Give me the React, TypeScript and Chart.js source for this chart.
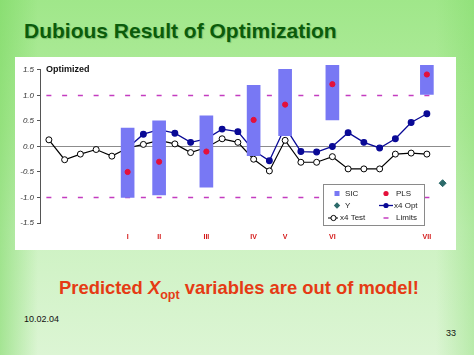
import React, { useEffect, useRef } from "react";
import { Chart, registerables } from "chart.js";
Chart.register(...registerables);

// ---- data ----
const categories = ["", "", "", "", "", "I", "", "II", "", "", "III", "", "", "IV", "", "V", "", "", "VI", "", "", "", "", "", "VII", ""];
const x4Test = [0.13, -0.26, -0.15, -0.06, -0.19, -0.03, 0.04, 0.12, 0.05, -0.12, -0.02, 0.15, 0.08, -0.25, -0.48, 0.12, -0.31, -0.31, -0.2, -0.44, -0.44, -0.44, -0.15, -0.13, -0.15, null];
const x4Opt = [null, null, null, null, null, -0.03, 0.24, 0.33, 0.26, 0.08, 0.15, 0.34, 0.29, -0.08, -0.28, 0.38, -0.1, -0.11, 0.0, 0.27, 0.08, -0.03, 0.15, 0.47, 0.64, null];
const sicLow = [null, null, null, null, null, -1.0, null, -0.95, null, null, -0.8, null, null, -0.18, null, 0.21, null, null, 0.52, null, null, null, null, null, 1.02, null];
const sicHigh = [null, null, null, null, null, 0.36, null, 0.5, null, null, 0.6, null, null, 1.2, null, 1.51, null, null, 1.59, null, null, null, null, null, 1.59, null];
const pls = [null, null, null, null, null, -0.5, null, -0.3, null, null, -0.1, null, null, 0.52, null, 0.82, null, null, 1.22, null, null, null, null, null, 1.41, null];
const yObs = [null, null, null, null, null, null, null, null, null, null, null, null, null, null, null, null, null, null, null, null, null, null, null, null, null, -0.72];
const limitUpper = [1, 1, 1, 1, 1, 1, 1, 1, 1, 1, 1, 1, 1, 1, 1, 1, 1, 1, 1, 1, 1, 1, 1, 1, 1, null];
const limitLower = [-1, -1, -1, -1, -1, -1, -1, -1, -1, -1, -1, -1, -1, -1, -1, -1, -1, -1, -1, -1, -1, -1, -1, -1, -1, null];
const yTicks = [-1.5, -1.0, -0.5, 0.0, 0.5, 1.0, 1.5];

const FONT = '"Liberation Sans", Arial, Helvetica, sans-serif';
const BAR = "#7878f4";
const RED = "#e4103a";
const NAVY = "#0a0a96";
const MAG = "#c43cc0";
const TEAL = "#2c6a6a";

const overlay = {
  id: "overlay",
  afterDraw(chart: any) {
    const ctx = chart.ctx;
    const ys = chart.scales.y;
    const ca = chart.chartArea;
    ctx.save();
    // y axis line from -1.5 to 1.5
    ctx.strokeStyle = "#555";
    ctx.lineWidth = 1;
    ctx.beginPath();
    const ax = Math.round(ca.left) - 0.5;
    ctx.moveTo(ax, ys.getPixelForValue(1.5));
    ctx.lineTo(ax, ys.getPixelForValue(-1.5));
    ctx.stroke();
    // "Optimized" label
    ctx.fillStyle = "#111";
    ctx.font = `bold 9px ${FONT}`;
    ctx.textBaseline = "middle";
    ctx.textAlign = "left";
    ctx.fillText("Optimized", ca.left + 5, ys.getPixelForValue(1.5));

    // legend
    const lx = 308.5, ly = 127.5, lw = 101, lh = 41;
    ctx.fillStyle = "#fff";
    ctx.fillRect(lx, ly, lw, lh);
    ctx.strokeStyle = "#8a8a8a";
    ctx.strokeRect(lx, ly, lw, lh);
    const r1 = 136.5, r2 = 148.5, r3 = 161;
    ctx.font = `8px ${FONT}`;
    ctx.fillStyle = "#222";
    ctx.fillText("SIC", 330, r1);
    ctx.fillText("Y", 330, r2);
    ctx.fillText("x4 Test", 325, r3);
    ctx.fillText("PLS", 381, r1);
    ctx.fillText("x4 Opt", 379, r2);
    ctx.fillText("Limits", 381, r3);
    // SIC square
    ctx.fillStyle = BAR;
    ctx.fillRect(319.5, r1 - 2.5, 5, 5);
    // Y diamond
    ctx.fillStyle = TEAL;
    ctx.beginPath();
    ctx.moveTo(322, r2 - 3.2);
    ctx.lineTo(325.2, r2);
    ctx.lineTo(322, r2 + 3.2);
    ctx.lineTo(318.8, r2);
    ctx.closePath();
    ctx.fill();
    // x4 Test
    ctx.strokeStyle = "#000";
    ctx.lineWidth = 1;
    ctx.beginPath();
    ctx.moveTo(313, r3);
    ctx.lineTo(323, r3);
    ctx.stroke();
    ctx.fillStyle = "#fff";
    ctx.beginPath();
    ctx.arc(318.5, r3, 2.6, 0, Math.PI * 2);
    ctx.fill();
    ctx.stroke();
    // PLS
    ctx.fillStyle = RED;
    ctx.beginPath();
    ctx.arc(371, r1, 2.6, 0, Math.PI * 2);
    ctx.fill();
    // x4 Opt
    ctx.strokeStyle = NAVY;
    ctx.lineWidth = 1.3;
    ctx.beginPath();
    ctx.moveTo(364, r2);
    ctx.lineTo(378, r2);
    ctx.stroke();
    ctx.fillStyle = NAVY;
    ctx.beginPath();
    ctx.arc(371, r2, 2.6, 0, Math.PI * 2);
    ctx.fill();
    // Limits
    ctx.strokeStyle = MAG;
    ctx.lineWidth = 1.5;
    ctx.beginPath();
    ctx.moveTo(368.5, r3);
    ctx.lineTo(373.5, r3);
    ctx.stroke();
    ctx.restore();
  },
};

function ChartPanel() {
  const ref = useRef<HTMLCanvasElement>(null);
  useEffect(() => {
    if (!ref.current) return;
    const sicData = sicLow.map((lo, i) => (lo === null ? null : [lo, sicHigh[i] as number]));
    const chart = new Chart(ref.current, {
      type: "bar",
      data: {
        labels: categories,
        datasets: [
          {
            type: "line",
            label: "x4 Test",
            data: x4Test,
            borderColor: "#000",
            borderWidth: 1.2,
            pointBackgroundColor: "#fff",
            pointBorderColor: "#000",
            pointBorderWidth: 1,
            pointRadius: 3,
            order: 6,
          } as any,
          {
            type: "line",
            label: "x4 Opt",
            data: x4Opt,
            borderColor: NAVY,
            borderWidth: 1.3,
            pointBackgroundColor: NAVY,
            pointBorderColor: NAVY,
            pointRadius: 2.8,
            order: 5,
          } as any,
          {
            type: "line",
            label: "Limits",
            data: limitUpper,
            showLine: false,
            pointStyle: "line",
            pointRadius: 2.5,
            pointBorderColor: MAG,
            pointBorderWidth: 1.5,
            order: 4,
          } as any,
          {
            type: "line",
            label: "Limits low",
            data: limitLower,
            showLine: false,
            pointStyle: "line",
            pointRadius: 2.5,
            pointBorderColor: MAG,
            pointBorderWidth: 1.5,
            order: 4,
          } as any,
          {
            type: "bar",
            label: "SIC",
            data: sicData as any,
            backgroundColor: BAR,
            borderWidth: 0,
            barThickness: 13,
            order: 3,
          },
          {
            type: "line",
            label: "PLS",
            data: pls,
            showLine: false,
            pointRadius: 2.6,
            pointBackgroundColor: RED,
            pointBorderColor: RED,
            order: 2,
          } as any,
          {
            type: "line",
            label: "Y",
            data: yObs,
            showLine: false,
            pointStyle: "rectRot",
            pointRadius: 3.5,
            pointBackgroundColor: TEAL,
            pointBorderColor: TEAL,
            order: 1,
          } as any,
        ],
      },
      options: {
        animation: false,
        responsive: false,
        devicePixelRatio: 1,
        layout: { padding: { left: 0, right: 4, top: 5, bottom: 0 } },
        plugins: { legend: { display: false }, tooltip: { enabled: false } },
        scales: {
          x: {
            offset: true,
            grid: { display: false, drawTicks: false },
            border: { display: false },
            ticks: {
              autoSkip: false,
              maxRotation: 0,
              padding: 10,
              color: "#d41818",
              font: { family: FONT, size: 7, weight: "bold" },
            },
            afterFit: (s: any) => {
              s.height = 27;
            },
          },
          y: {
            min: -1.5,
            max: 1.6,
            border: { display: false },
            grid: {
              drawOnChartArea: true,
              color: (c: any) => (c.tick && Math.abs(c.tick.value) < 1e-9 ? "#8c8c8c" : "rgba(0,0,0,0)"),
              lineWidth: 1,
              tickColor: "#555",
              tickLength: 4,
            },
            afterBuildTicks: (s: any) => {
              s.ticks = yTicks.map((v) => ({ value: v }));
            },
            ticks: {
              padding: 3,
              color: "#333",
              font: { family: FONT, size: 8, style: "italic" },
              callback: (v: any) => Number(v).toFixed(1),
            },
            afterFit: (s: any) => {
              s.width = 26;
            },
          },
        },
      },
      plugins: [overlay],
    });
    return () => chart.destroy();
  }, []);
  return <canvas ref={ref} width={441} height={193} style={{ display: "block" }} />;
}

export default function App() {
  return (
    <div
      style={{
        position: "fixed",
        left: 0,
        top: 0,
        width: 474,
        height: 355,
        overflow: "hidden",
        fontFamily: FONT,
        background:
          "linear-gradient(90deg, rgba(120,215,95,0.55) 0%, rgba(120,215,95,0) 8%, rgba(120,215,95,0) 92%, rgba(120,215,95,0.35) 100%), linear-gradient(180deg, #a0e78a 0%, #b4eca0 35%, #cdf2c2 65%, #dcf5d4 100%)",
      }}
    >
      <div
        style={{
          position: "absolute",
          left: 24,
          top: 19.5,
          fontSize: 21,
          lineHeight: "21px",
          fontWeight: "bold",
          color: "#0b5c0b",
          whiteSpace: "nowrap",
          textShadow: "1px 1px 1px rgba(0,60,0,0.25)",
        }}
      >
        Dubious Result of Optimization
      </div>
      <div style={{ position: "absolute", left: 15, top: 57, width: 441, height: 193, background: "#fff" }}>
        <ChartPanel />
      </div>
      <div
        style={{
          position: "absolute",
          left: 59,
          top: 278,
          fontSize: 18.4,
          lineHeight: "19px",
          fontWeight: "bold",
          color: "#e53b14",
          whiteSpace: "nowrap",
        }}
      >
        Predicted <i>X</i>
        <span style={{ fontSize: 12.5, position: "relative", top: 5 }}>opt</span> variables are out of model!
      </div>
      <div style={{ position: "absolute", left: 24, top: 315, fontSize: 9, lineHeight: "9px", color: "#111" }}>10.02.04</div>
      <div style={{ position: "absolute", left: 446, top: 329, fontSize: 9, lineHeight: "9px", color: "#111" }}>33</div>
    </div>
  );
}
